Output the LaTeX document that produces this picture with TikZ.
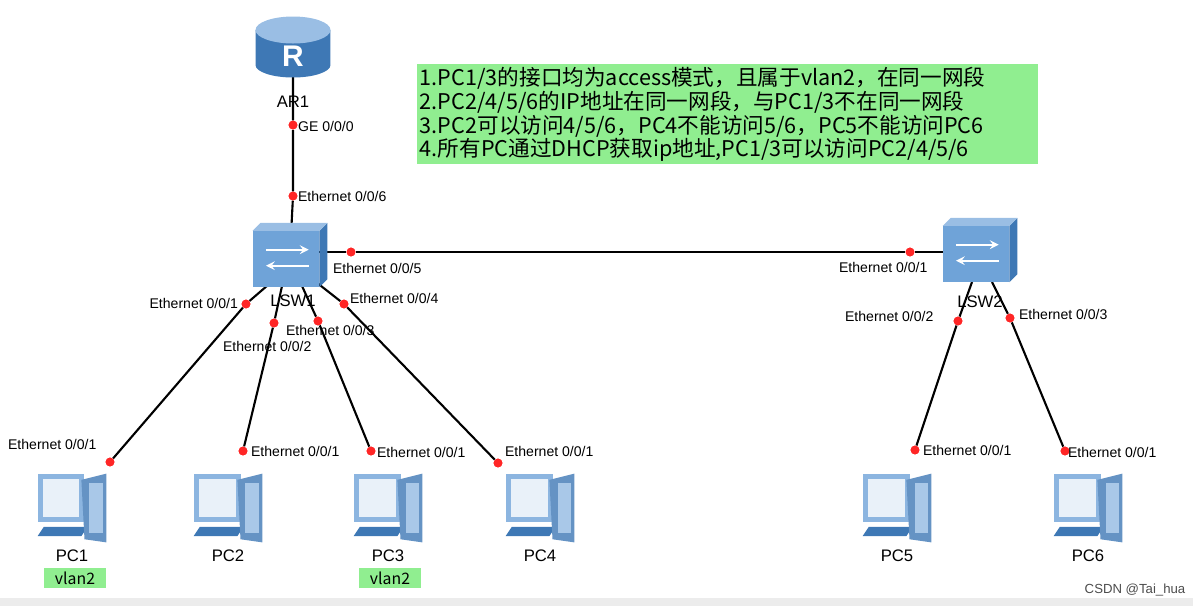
\documentclass[tikz,border=0pt]{standalone}
\usepackage{fontspec}
\setmainfont{Liberation Sans}
\newfontfamily\cjk{Noto Sans CJK SC}
\usetikzlibrary{positioning}

\definecolor{icoblue}{HTML}{6FA3D8}
\definecolor{icodark}{HTML}{3E78B5}
\definecolor{notegreen}{HTML}{90EE90}

\tikzset{
  port/.style={circle,fill=red!85,inner sep=0pt,minimum size=5pt},
  plbl/.style={font=\fontsize{8}{9}\selectfont,inner sep=1pt},
  dev/.style={font=\fontsize{9.5}{10}\selectfont,inner sep=0pt},
  link/.style={line width=1.2pt},
  tag/.style={fill=notegreen,font=\cjk\fontsize{9}{10}\selectfont,inner sep=2pt,minimum width=1.25cm},
  pics/pc/.style={code={
    \begin{scope}[x=1.25cm,y=1.25cm]
    \fill[icodark] (-0.55,-0.45) -- (0.15,-0.45) -- (0.25,-0.3) -- (-0.45,-0.3) -- cycle;
    \fill[icoblue!80] (-0.55,0.55) rectangle (0.2,-0.22);
    \fill[white!85!icoblue] (-0.47,0.47) rectangle (0.12,-0.14);
    \fill[icodark!80] (0.15,0.45) -- (0.55,0.55) -- (0.55,-0.55) -- (0.2,-0.5) -- cycle;
    \fill[icoblue!60] (0.28,0.4) rectangle (0.5,-0.4);
    \end{scope}
  }},
  pics/sw/.style={code={
    \begin{scope}[x=1.07cm,y=1.07cm]
    \fill[icodark] (0.55,0.45) -- (0.7,0.6) -- (0.7,-0.45) -- (0.55,-0.6) -- cycle;
    \fill[icoblue!70] (-0.7,0.45) -- (-0.55,0.6) -- (0.7,0.6) -- (0.55,0.45) -- cycle;
    \fill[icoblue] (-0.7,0.45) rectangle (0.55,-0.6);
    \draw[white,line width=1.2pt,-stealth] (-0.45,0.1) -- (0.35,0.1);
    \draw[white,line width=1.2pt,-stealth] (0.35,-0.2) -- (-0.45,-0.2);
    \end{scope}
  }},
  pics/rt/.style={code={
    \begin{scope}[x=1cm,y=1cm]
    \fill[icodark] (-0.75,0.3) -- (-0.75,-0.4) arc (180:360:0.75 and 0.25) -- (0.75,0.3) -- cycle;
    \fill[icoblue!70] (0,0.3) ellipse (0.75 and 0.27);
    \node[text=white,font=\fontsize{17}{17}\selectfont\bfseries] at (0,-0.22) {R};
    \end{scope}
  }}
}

\begin{document}
\begin{tikzpicture}[x=0.02cm,y=-0.02cm]
  \useasboundingbox (0,0) rectangle (1193,606);
  \fill[gray!15] (0,598) rectangle (1193,606);

  % Links (under the devices)
  \coordinate (ar1c) at (293,60);
  \coordinate (lsw1c) at (290,255);
  \coordinate (lsw2c) at (980,250);
  \node[port] (ge0)  at (293,125) {};
  \node[port] (s1e6) at (293,196) {};
  \node[port] (s1e5) at (351,252) {};
  \node[port] (s2e1) at (910,252) {};
  \node[port] (s1e1) at (246,304) {};
  \node[port] (s1e2) at (274,323) {};
  \node[port] (s1e3) at (318,321) {};
  \node[port] (s1e4) at (344,304) {};
  \node[port] (s2e2) at (958,321) {};
  \node[port] (s2e3) at (1010,318) {};
  \node[port] (p1) at (110,462) {};
  \node[port] (p2) at (243,451) {};
  \node[port] (p3) at (371,451) {};
  \node[port] (p4) at (498,463) {};
  \node[port] (p5) at (915,450) {};
  \node[port] (p6) at (1065,451) {};
  \draw[link] (ar1c) -- (ge0) -- (s1e6) -- (lsw1c);
  \draw[link] (lsw1c |- s1e5) -- (s1e5) -- (s2e1) -- (lsw2c |- s2e1);
  \draw[link] (p1) -- (s1e1) -- (268,285);
  \draw[link] (p2) -- (s1e2) -- (282,286);
  \draw[link] (p3) -- (s1e3) -- (302,286);
  \draw[link] (p4) -- (s1e4) -- (316,282);
  \draw[link] (p5) -- (s2e2) -- (972,282);
  \draw[link] (p6) -- (s2e3) -- (992,282);
  \foreach \p in {ge0,s1e6,s1e5,s2e1,s1e1,s1e2,s1e3,s1e4,s2e2,s2e3,p1,p2,p3,p4,p5,p6}
    \node[port] at (\p) {};

  % Devices
  \pic at (293,45) {rt};
  \node[dev] (ar1) at (293,102) {AR1};
  \pic at (lsw1c) {sw};
  \node[dev] (lsw1) at (293,301) {LSW1};
  \pic at (lsw2c) {sw};
  \node[dev] (lsw2) at (980,302) {LSW2};
  \foreach \n/\x in {1/72,2/228,3/388,4/540,5/897,6/1088} {
    \pic at (\x,508) {pc};
    \node[dev] (pc\n) at (\x,556) {PC\n};
  }
  \node[tag] (vlanA) at (75,578) {vlan2};
  \node[tag] (vlanB) at (390,578) {vlan2};

  % Port labels
  \node[plbl,anchor=west] at (296,126) {GE 0/0/0};
  \node[plbl,anchor=west] at (296,196) {Ethernet 0/0/6};
  \node[plbl,anchor=west] at (331,268) {Ethernet 0/0/5};
  \node[plbl,anchor=west] at (837,267) {Ethernet 0/0/1};
  \node[plbl,anchor=east] at (240,303) {Ethernet 0/0/1};
  \node[plbl,anchor=west] at (221,346) {Ethernet 0/0/2};
  \node[plbl,anchor=west] at (284,330) {Ethernet 0/0/3};
  \node[plbl,anchor=west] at (348,298) {Ethernet 0/0/4};
  \node[plbl,anchor=west] at (843,316) {Ethernet 0/0/2};
  \node[plbl,anchor=west] at (1017,314) {Ethernet 0/0/3};
  \node[plbl,anchor=west] at (6,444) {Ethernet 0/0/1};
  \node[plbl,anchor=west] at (249,451) {Ethernet 0/0/1};
  \node[plbl,anchor=west] at (375,452) {Ethernet 0/0/1};
  \node[plbl,anchor=west] at (503,451) {Ethernet 0/0/1};
  \node[plbl,anchor=west] at (921,450) {Ethernet 0/0/1};
  \node[plbl,anchor=west] at (1066,452) {Ethernet 0/0/1};

  % Note
  \node[fill=notegreen,anchor=north west,align=left,inner sep=1.5pt,
        text width=12.3cm,font=\cjk\fontsize{12.3}{12.2}\selectfont] (note) at (417,64) {%
    1.PC1/3的接口均为access模式，且属于vlan2，在同一网段\\
    2.PC2/4/5/6的IP地址在同一网段，与PC1/3不在同一网段\\
    3.PC2可以访问4/5/6，PC4不能访问5/6，PC5不能访问PC6\\
    4.所有PC通过DHCP获取ip地址,PC1/3可以访问PC2/4/5/6};
  \node[font=\fontsize{7.5}{8}\selectfont,text=gray!60!black] (mark) at (1135,590) {CSDN @Tai\_hua};
\end{tikzpicture}
\end{document}
